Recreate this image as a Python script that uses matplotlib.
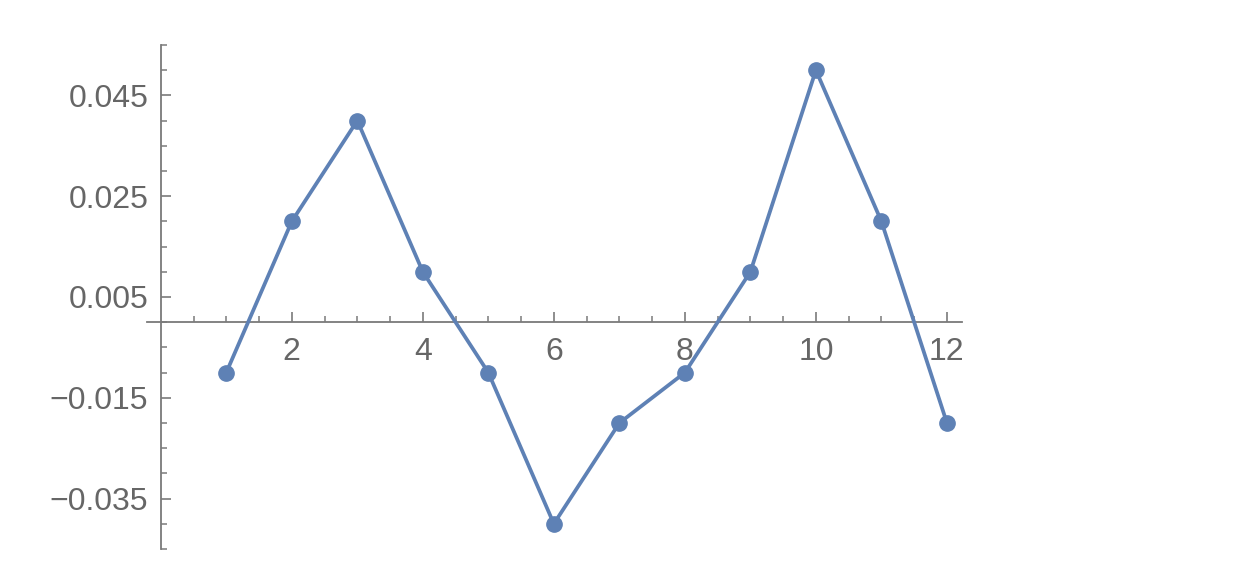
import matplotlib
matplotlib.use("Agg")
import matplotlib.pyplot as plt
import numpy as np

x_vals = [1, 2, 3, 4, 5, 6, 7, 8, 9, 10, 11, 12]
y_vals = [-0.01, 0.02, 0.04, 0.01, -0.01, -0.04, -0.02, -0.01, 0.01, 0.05, 0.02, -0.02]
x_ticks = [2, 4, 6, 8, 10, 12]
y_ticks = [-0.035, -0.015, 0.005, 0.025, 0.045]
y_tick_labels = ["\u22120.035", "\u22120.015", "0.005", "0.025", "0.045"]

plt.rcParams['font.family'] = ['Liberation Sans', 'DejaVu Sans']

fig = plt.figure(figsize=(12.6, 5.8), dpi=100)
left_px, right_px, top_px, bot_px = 147, 962, 45, 549
ax = fig.add_axes([left_px / 1260, 1 - bot_px / 580, (right_px - left_px) / 1260, (bot_px - top_px) / 580])

line_color = '#5E81B5'
axis_color = '#7a7a7a'
ax.plot(x_vals, y_vals, color=line_color, lw=2.7, marker='o', ms=11, clip_on=False, zorder=3)

ax.set_xlim(-0.21, 12.23)
ax.set_ylim(-0.045, 0.055)

for s in ['top', 'right']:
    ax.spines[s].set_visible(False)
ax.spines['left'].set_position(('data', 0))
ax.spines['bottom'].set_position(('data', 0))
for s in ['left', 'bottom']:
    ax.spines[s].set_color(axis_color)
    ax.spines[s].set_linewidth(1.3)

ax.set_xticks(x_ticks)
ax.set_xticks(np.arange(0.5, 12.3, 0.5), minor=True)
ax.set_yticks(y_ticks)
ax.set_yticklabels(y_tick_labels)
ax.set_yticks(np.arange(-0.045, 0.0551, 0.005), minor=True)

ax.tick_params(axis='both', which='major', direction='in', length=7, width=1.2,
               color=axis_color, labelcolor='#666666', labelsize=23)
ax.tick_params(axis='both', which='minor', direction='in', length=4.5, width=1.1, color=axis_color)
ax.tick_params(axis='x', which='major', pad=11)
ax.tick_params(axis='y', which='major', pad=9)

fig.savefig('out.png', dpi=100, facecolor='white')
